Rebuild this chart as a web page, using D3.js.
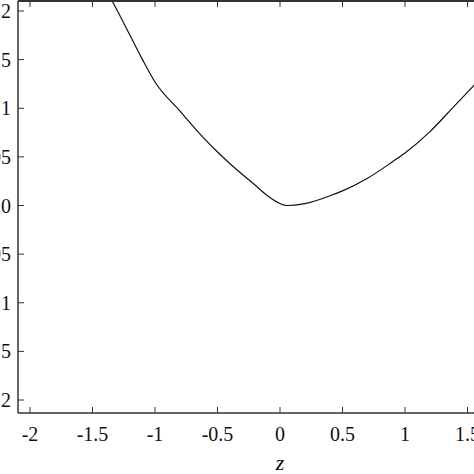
<!DOCTYPE html>
<html><head><meta charset="utf-8">
<script src="https://cdn.jsdelivr.net/npm/d3@7"></script>
<style>body{margin:0;background:#fff}</style></head>
<body><script>
const zVals = [-1.35,-1.3,-1.2,-1.1,-1,-0.8,-0.6,-0.5,-0.4,-0.2,-0.1,0,0.05,0.2,0.4,0.5,0.7,0.9,1,1.2,1.4,1.6]
const fVals = [0.212,0.2,0.175,0.15,0.127,0.097,0.068,0.055,0.043,0.021,0.01,0.002,0,0.002,0.01,0.015,0.028,0.045,0.054,0.076,0.103,0.13]
const xTicks = [-2,-1.5,-1,-0.5,0,0.5,1,1.5]
const yTicks = [-0.2,-0.15,-0.1,-0.05,0,0.05,0.1,0.15,0.2]

const W = 474, H = 474
const x = d3.scaleLinear().domain([-2,1.5]).range([30,467.5])
const y = d3.scaleLinear().domain([-0.2,0.2]).range([400,11])
const pLeft = 18, pTop = 1, pBottom = 413

const svg = d3.select('body').append('svg').attr('width',W).attr('height',H)
  .style('font-family','"Liberation Serif", serif')
svg.append('clipPath').attr('id','c').append('rect')
  .attr('x',pLeft).attr('y',pTop).attr('width',W-pLeft).attr('height',pBottom-pTop)

svg.append('path').datum(zVals.map((z,i)=>[z,fVals[i]]))
  .attr('clip-path','url(#c)')
  .attr('fill','none').attr('stroke','#111').attr('stroke-width',1.2)
  .attr('d', d3.line().x(d=>x(d[0])).y(d=>y(d[1])).curve(d3.curveMonotoneX))

// frame
svg.append('line').attr('x1',pLeft).attr('x2',W).attr('y1',pTop).attr('y2',pTop).attr('stroke','#333').attr('stroke-width',2)
svg.append('line').attr('x1',pLeft).attr('x2',pLeft).attr('y1',pTop).attr('y2',pBottom).attr('stroke','#333').attr('stroke-width',1.5)
svg.append('line').attr('x1',pLeft).attr('x2',W).attr('y1',pBottom).attr('y2',pBottom).attr('stroke','#333').attr('stroke-width',1.5)

xTicks.forEach(t=>{
  svg.append('line').attr('x1',x(t)).attr('x2',x(t)).attr('y1',pBottom).attr('y2',pBottom-6).attr('stroke','#333')
  svg.append('line').attr('x1',x(t)).attr('x2',x(t)).attr('y1',pTop).attr('y2',pTop+6).attr('stroke','#333')
  svg.append('text').attr('x',x(t)).attr('y',441).attr('text-anchor','middle')
    .attr('font-size',20).attr('fill','#111').text(t)
})
yTicks.forEach(t=>{
  svg.append('line').attr('x1',pLeft).attr('x2',pLeft+6).attr('y1',y(t)).attr('y2',y(t)).attr('stroke','#333')
  svg.append('text').attr('x',11).attr('y',y(t)+7).attr('text-anchor','end')
    .attr('font-size',20).attr('fill','#111').text(t)
})
svg.append('text').attr('x',280).attr('y',470).attr('text-anchor','middle')
  .attr('font-size',22).attr('font-style','italic').attr('fill','#111').text('z')
</script></body></html>
